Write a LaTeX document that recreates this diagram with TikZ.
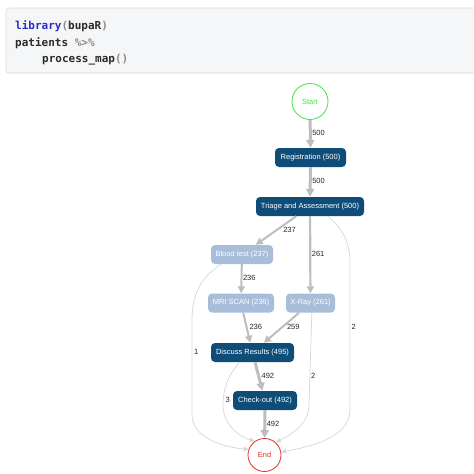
\documentclass[tikz,border=0pt]{standalone}
\usepackage{fontspec}
\setmainfont{Liberation Sans}
\newfontfamily\codefont{DejaVu Sans Mono}
\usetikzlibrary{arrows.meta}
\definecolor{codebg}{HTML}{F5F6F7}
\definecolor{codeborder}{HTML}{D5D8DB}
\definecolor{kwblue}{HTML}{2B2BC8}
\definecolor{codegray}{HTML}{8A8A8A}
\definecolor{codetext}{HTML}{2A2A2A}
\definecolor{darkn}{HTML}{0D4D78}
\definecolor{lightn}{HTML}{A8BDDA}
\definecolor{thickedge}{HTML}{BDBDBD}
\definecolor{thinedge}{HTML}{D6D6D6}
\definecolor{startgreen}{HTML}{3CE63C}
\definecolor{endred}{HTML}{E0302C}
\tikzset{
  actbase/.style={rectangle, rounded corners=4pt, inner sep=0pt, minimum height=19pt,
    font=\fontsize{7.5}{9}\selectfont},
  darkact/.style={actbase, fill=darkn, text=white},
  lightact/.style={actbase, fill=lightn, text=white},
  startn/.style={circle, draw=startgreen, line width=0.8pt, minimum size=36pt, inner sep=0pt,
    text=startgreen, font=\fontsize{7.5}{9}\selectfont},
  endn/.style={circle, draw=endred, line width=0.8pt, minimum size=33pt, inner sep=0pt,
    text=endred, font=\fontsize{7.5}{9}\selectfont},
  bigflow/.style={draw=thickedge, line width=3pt, -{Triangle[length=8pt,width=8pt]}},
  midflow/.style={draw=thickedge, line width=2pt, -{Triangle[length=7pt,width=7pt]}},
  thinflow/.style={draw=thinedge, line width=0.7pt, -{Triangle[length=5pt,width=4.5pt]}},
  lab/.style={inner sep=0.5pt, anchor=west, text=black!85, font=\fontsize{7.5}{9}\selectfont},
  codeline/.style={anchor=base west, inner sep=0pt, text=codetext, font=\codefont\bfseries\fontsize{11}{13}\selectfont}
}
\begin{document}
\begin{tikzpicture}[x=1pt,y=-1pt]
\useasboundingbox (0,0) rectangle (474,474);
% code box
\draw[fill=codebg, draw=codeborder, rounded corners=3pt, line width=0.6pt] (6,8) rectangle (480,73);
\node[codeline] (c1) at (15,29) {\textcolor{kwblue}{library}\textcolor{codegray}{(}bupaR\textcolor{codegray}{)}};
\node[codeline] (c2) at (15,46) {patients \textcolor{codegray}{\%>\%}};
\node[codeline] (c3) at (42,62.5) {process\_map\textcolor{codegray}{()}};
% nodes
\node[startn] (start) at (310,101.5) {Start};
\node[darkact, minimum width=71pt] (reg) at (310.5,157.5) {Registration (500)};
\node[darkact, minimum width=108pt] (tri) at (310,206.5) {Triage and Assessment (500)};
\node[lightact, minimum width=62pt] (blood) at (242,254.5) {Blood test (237)};
\node[lightact, minimum width=66pt] (mri) at (241,303) {MRI SCAN (236)};
\node[lightact, minimum width=49pt] (xray) at (310.5,303) {X-Ray (261)};
\node[darkact, minimum width=83pt] (disc) at (252.5,352.5) {Discuss Results (495)};
\node[darkact, minimum width=64pt] (chk) at (265,400.5) {Check-out (492)};
\node[endn] (end) at (264.5,455) {End};
% thick flows
\draw[bigflow] (start) -- node[lab, pos=0.45] (l1) {500} (reg);
\draw[bigflow] (reg) -- node[lab, pos=0.45] (l2) {500} (tri);
\draw[midflow] (tri) -- node[lab, pos=0.48, xshift=5pt] (l3) {237} (blood);
\draw[midflow, line width=2.2pt] (tri) -- node[lab, pos=0.49] (l4) {261} (xray);
\draw[midflow] (blood) -- node[lab, pos=0.48] (l5) {236} (mri);
\draw[midflow] (mri) -- node[lab, pos=0.47, xshift=1.5pt] (l6) {236} (disc);
\draw[midflow] (xray) -- node[lab, pos=0.47, xshift=3pt] (l7) {259} (disc);
\draw[bigflow] (disc) -- node[lab, pos=0.48, xshift=1pt] (l8) {492} (chk);
\draw[bigflow] (chk) -- node[lab, pos=0.5] (l9) {492} (end);
% thin flows
\draw[thinflow] (tri.-29) .. controls (340,226) and (350,240) .. (350,262) -- (350,410)
  .. controls (350,440) and (302,448) .. (end.10);
\node[lab] (l10) at (351,327) {2};
\draw[thinflow] (xray.-82) -- (309,405) .. controls (308,425) and (292,434) .. (end.48);
\node[lab] (l11) at (310.5,376) {2};
\draw[thinflow] (blood.205) .. controls (200,278) and (192,295) .. (192,320) -- (192,415)
  .. controls (192,440) and (230,448) .. (end.160);
\node[lab] (l12) at (193.5,352) {1};
\draw[thinflow] (disc.217) .. controls (228,375) and (223,390) .. (223,405)
  .. controls (223,425) and (240,437) .. (end.125);
\node[lab] (l13) at (225,400) {3};
\end{tikzpicture}
\end{document}
